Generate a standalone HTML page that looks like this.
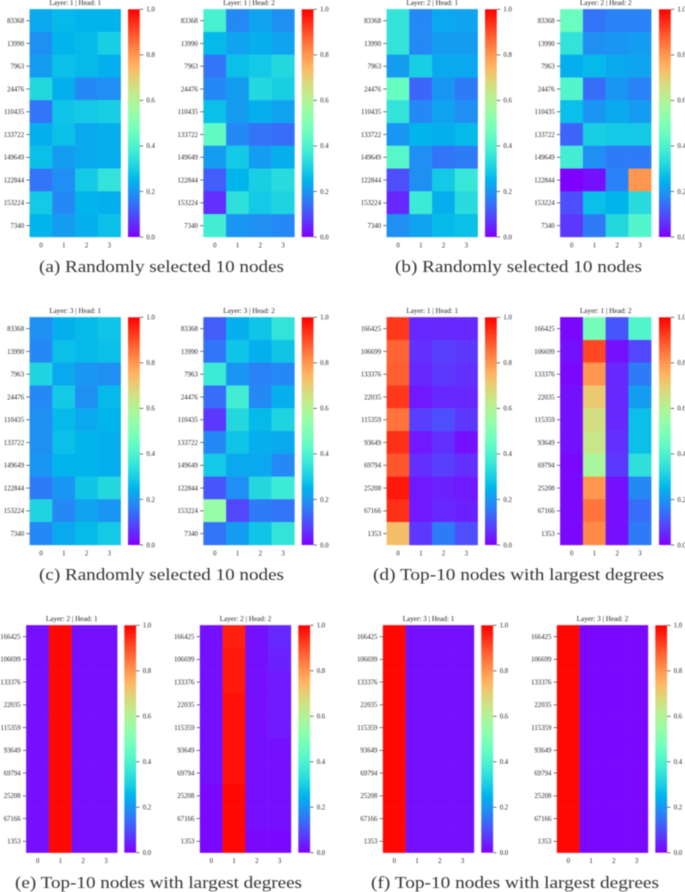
<!DOCTYPE html>
<html lang="en">
<head>
<meta charset="utf-8">
<title>Attention heatmaps</title>
<style>
html,body{margin:0;padding:0;background:#fff;width:685px;height:892px;overflow:hidden}
svg{display:block;filter:blur(0.4px)}
text{font-family:"Liberation Serif",serif;fill:#222}
.cap{font-size:16.5px;fill:#333}
</style>
</head>
<body>
<svg id="chart" xmlns="http://www.w3.org/2000/svg" width="685" height="892" viewBox="0 0 685 892">
<rect width="685" height="892" fill="#fff"/>
<defs id="defs"></defs>
<g id="plots"></g>
<text class="cap" x="39" y="272" textLength="245" lengthAdjust="spacingAndGlyphs">(a) Randomly selected 10 nodes</text>
<text class="cap" x="395" y="272" textLength="247" lengthAdjust="spacingAndGlyphs">(b) Randomly selected 10 nodes</text>
<text class="cap" x="39" y="580" textLength="245" lengthAdjust="spacingAndGlyphs">(c) Randomly selected 10 nodes</text>
<text class="cap" x="373" y="580" textLength="291" lengthAdjust="spacingAndGlyphs">(d) Top-10 nodes with largest degrees</text>
<text class="cap" x="15" y="888" textLength="287" lengthAdjust="spacingAndGlyphs">(e) Top-10 nodes with largest degrees</text>
<text class="cap" x="371" y="888" textLength="288" lengthAdjust="spacingAndGlyphs">(f) Top-10 nodes with largest degrees</text>
</svg>
<script>
// ---- data ----
const randomNodes = ["83368","13990","7963","24476","110435","133722","149649","122844","153224","7340"];
const topNodes = ["166425","106699","133376","22035","115359","93649","69794","25208","67166","1353"];
const headColumns = ["0","1","2","3"];
const colorbarTicks = [0,0.2,0.4,0.6,0.8,1.0];

const randL1H1 = [[.23,.26,.25,.25],[.19,.25,.26,.30],[.21,.27,.26,.24],[.32,.24,.18,.19],[.15,.28,.29,.30],[.24,.27,.23,.24],[.27,.21,.23,.24],[.15,.19,.29,.35],[.29,.18,.25,.24],[.25,.21,.24,.27]];
const randL1H2 = [[.39,.18,.22,.19],[.26,.22,.24,.22],[.15,.27,.29,.32],[.18,.21,.32,.30],[.27,.21,.24,.22],[.44,.18,.15,.14],[.21,.29,.21,.24],[.12,.25,.30,.33],[.06,.34,.29,.31],[.38,.20,.19,.18]];
const randL2H1 = [[.35,.18,.23,.22],[.35,.18,.21,.21],[.21,.30,.23,.23],[.45,.13,.20,.16],[.35,.18,.22,.19],[.20,.25,.24,.26],[.42,.19,.15,.16],[.10,.19,.29,.36],[.05,.37,.24,.33],[.19,.22,.26,.27]];
const randL2H2 = [[.46,.15,.17,.17],[.35,.19,.20,.21],[.24,.26,.23,.22],[.41,.14,.20,.17],[.27,.20,.23,.21],[.13,.30,.29,.29],[.38,.19,.16,.16],[.00,.02,.17,.80],[.10,.27,.25,.33],[.07,.16,.32,.41]];
const randL3H1 = [[.19,.24,.26,.28],[.18,.27,.26,.27],[.31,.23,.20,.19],[.18,.29,.19,.26],[.19,.26,.23,.25],[.19,.27,.25,.24],[.20,.25,.25,.24],[.16,.20,.28,.32],[.31,.18,.22,.20],[.18,.23,.26,.29]];
const randL3H2 = [[.12,.24,.28,.35],[.15,.28,.24,.28],[.37,.20,.17,.18],[.14,.38,.18,.24],[.07,.32,.26,.31],[.18,.28,.24,.23],[.29,.23,.23,.18],[.11,.19,.32,.37],[.55,.09,.16,.15],[.15,.21,.28,.35]];
const topL1H1 = [[.93,.05,.05,.05],[.87,.06,.08,.07],[.88,.05,.07,.06],[.93,.03,.05,.05],[.85,.08,.10,.07],[.94,.03,.06,.02],[.89,.06,.08,.06],[.97,.03,.04,.03],[.94,.03,.05,.04],[.73,.07,.16,.10]];
const topL1H2 = [[.01,.48,.11,.41],[.02,.91,.02,.09],[.01,.80,.05,.16],[.02,.71,.05,.21],[.02,.66,.05,.27],[.02,.64,.06,.27],[.01,.58,.07,.34],[.01,.80,.02,.18],[.01,.85,.02,.14],[.01,.82,.02,.16]];
const topL2H1 = [[.02,.99,.02,.02],[.02,.99,.02,.02],[.02,.99,.02,.02],[.02,.99,.02,.02],[.02,.99,.02,.02],[.02,.99,.02,.02],[.02,.99,.02,.02],[.02,.99,.02,.02],[.02,.99,.02,.02],[.02,.99,.02,.02]];
const topL2H2 = [[.02,.96,.02,.05],[.02,.97,.02,.04],[.02,.97,.02,.03],[.02,.98,.02,.03],[.02,.98,.02,.03],[.02,.98,.02,.02],[.02,.98,.02,.02],[.01,.99,.02,.02],[.01,.99,.02,.02],[.01,.99,.01,.01]];
const topL3H1 = [[.99,.02,.02,.02],[.99,.02,.02,.02],[.99,.02,.02,.02],[.99,.02,.02,.02],[.99,.02,.02,.02],[.99,.02,.02,.02],[.99,.02,.02,.02],[.99,.02,.02,.02],[.99,.02,.02,.02],[.99,.02,.02,.02]];
const topL3H2 = [[.99,.01,.01,.01],[.99,.01,.01,.01],[.99,.01,.01,.01],[.99,.01,.01,.01],[.99,.01,.01,.01],[.99,.01,.01,.01],[.99,.01,.01,.01],[.99,.01,.01,.01],[.99,.01,.01,.01],[.99,.01,.01,.01]];

// ---- layout (separate from data) ----
const panels = [
 {id:"a1",title:"Layer: 1 | Head: 1",nodes:randomNodes,vals:randL1H1,x:29.7,top:9.3,bottom:237,cb:128},
 {id:"a2",title:"Layer: 1 | Head: 2",nodes:randomNodes,vals:randL1H2,x:203.5,top:9.3,bottom:237,cb:301.7},
 {id:"b1",title:"Layer: 2 | Head: 1",nodes:randomNodes,vals:randL2H1,x:386.7,top:9.3,bottom:237,cb:485},
 {id:"b2",title:"Layer: 2 | Head: 2",nodes:randomNodes,vals:randL2H2,x:560.3,top:9.3,bottom:237,cb:659},
 {id:"c1",title:"Layer: 3 | Head: 1",nodes:randomNodes,vals:randL3H1,x:29.7,top:317.3,bottom:545,cb:128},
 {id:"c2",title:"Layer: 3 | Head: 2",nodes:randomNodes,vals:randL3H2,x:203.5,top:317.3,bottom:545,cb:301.7},
 {id:"d1",title:"Layer: 1 | Head: 1",nodes:topNodes,vals:topL1H1,x:386.7,top:317.3,bottom:545,cb:485},
 {id:"d2",title:"Layer: 1 | Head: 2",nodes:topNodes,vals:topL1H2,x:560.3,top:317.3,bottom:545,cb:659},
 {id:"e1",title:"Layer: 2 | Head: 1",nodes:topNodes,vals:topL2H1,x:26.3,top:625.3,bottom:852.7,cb:124.3},
 {id:"e2",title:"Layer: 2 | Head: 2",nodes:topNodes,vals:topL2H2,x:200,top:625.3,bottom:852.7,cb:298.3},
 {id:"f1",title:"Layer: 3 | Head: 1",nodes:topNodes,vals:topL3H1,x:383,top:625.3,bottom:852.7,cb:481.3},
 {id:"f2",title:"Layer: 3 | Head: 2",nodes:topNodes,vals:topL3H2,x:557,top:625.3,bottom:852.7,cb:655.3}
];
const HEAT_W = 91, CB_W = 11.8;
const NS = "http://www.w3.org/2000/svg";

// matplotlib "rainbow" colormap
function rainbow(v){
  const t = Math.max(0,Math.min(1,v));
  const c = x => Math.round(255*Math.max(0,Math.min(1,x)));
  return "rgb("+c(Math.abs(2*t-0.5))+","+c(Math.sin(Math.PI*t))+","+c(Math.cos(Math.PI*t/2))+")";
}
function make(tag,attrs,parent){
  const el = document.createElementNS(NS,tag);
  for(const k in attrs) el.setAttribute(k,attrs[k]);
  parent.appendChild(el);
  return el;
}

// shared colorbar gradient
const defs = document.getElementById("defs");
const grad = make("linearGradient",{id:"rainbowGrad",x1:0,y1:1,x2:0,y2:0},defs);
for(let i=0;i<=64;i++){
  make("stop",{offset:i/64,"stop-color":rainbow(i/64)},grad);
}

const root = document.getElementById("plots");
panels.forEach(function(p){
  const rows = p.vals.length, cols = headColumns.length;
  const xScale = i => p.x + i*HEAT_W/cols;
  const yScale = j => p.top + j*(p.bottom-p.top)/rows;
  const cbScale = v => p.bottom - v*(p.bottom-p.top);

  const g = make("g",{},root);
  
  

  const title = make("text",{x:p.x+HEAT_W/2,y:p.top-4.2,"text-anchor":"middle","font-size":7.2},g);
  title.textContent = p.title;
  
  

  p.vals.forEach(function(row,j){
    row.forEach(function(v,i){
      const color = rainbow(v);
      const cell = make("rect",{x:xScale(i),y:yScale(j),width:HEAT_W/cols,height:(p.bottom-p.top)/rows,fill:color,stroke:color,"stroke-width":0.3},g);
      
      
    });
  });

  p.nodes.forEach(function(n,j){
    const yc = yScale(j+0.5);
    const tick = make("line",{x1:p.x-3.4,x2:p.x,y1:yc,y2:yc,stroke:"#333","stroke-width":0.7},g);
    
    
    const lab = make("text",{x:p.x-5.6,y:yc+2.3,"text-anchor":"end","font-size":6.8},g);
    lab.textContent = n;
    
    
  });

  headColumns.forEach(function(c,i){
    const xc = xScale(i+0.5);
    const lab = make("text",{x:xc,y:p.bottom+10.5,"text-anchor":"middle","font-size":6.8},g);
    lab.textContent = c;
    
    
  });

  const bar = make("rect",{x:p.cb,y:p.top,width:CB_W,height:p.bottom-p.top,fill:"url(#rainbowGrad)"},g);
  
  

  colorbarTicks.forEach(function(v){
    const yc = cbScale(v);
    const tick = make("line",{x1:p.cb+CB_W,x2:p.cb+CB_W+3.4,y1:yc,y2:yc,stroke:"#333","stroke-width":0.7},g);
    
    
    const lab = make("text",{x:p.cb+CB_W+6.6,y:yc+2.3,"font-size":6.8},g);
    lab.textContent = v.toFixed(1);
    
    
  });
});
</script>
</body>
</html>
